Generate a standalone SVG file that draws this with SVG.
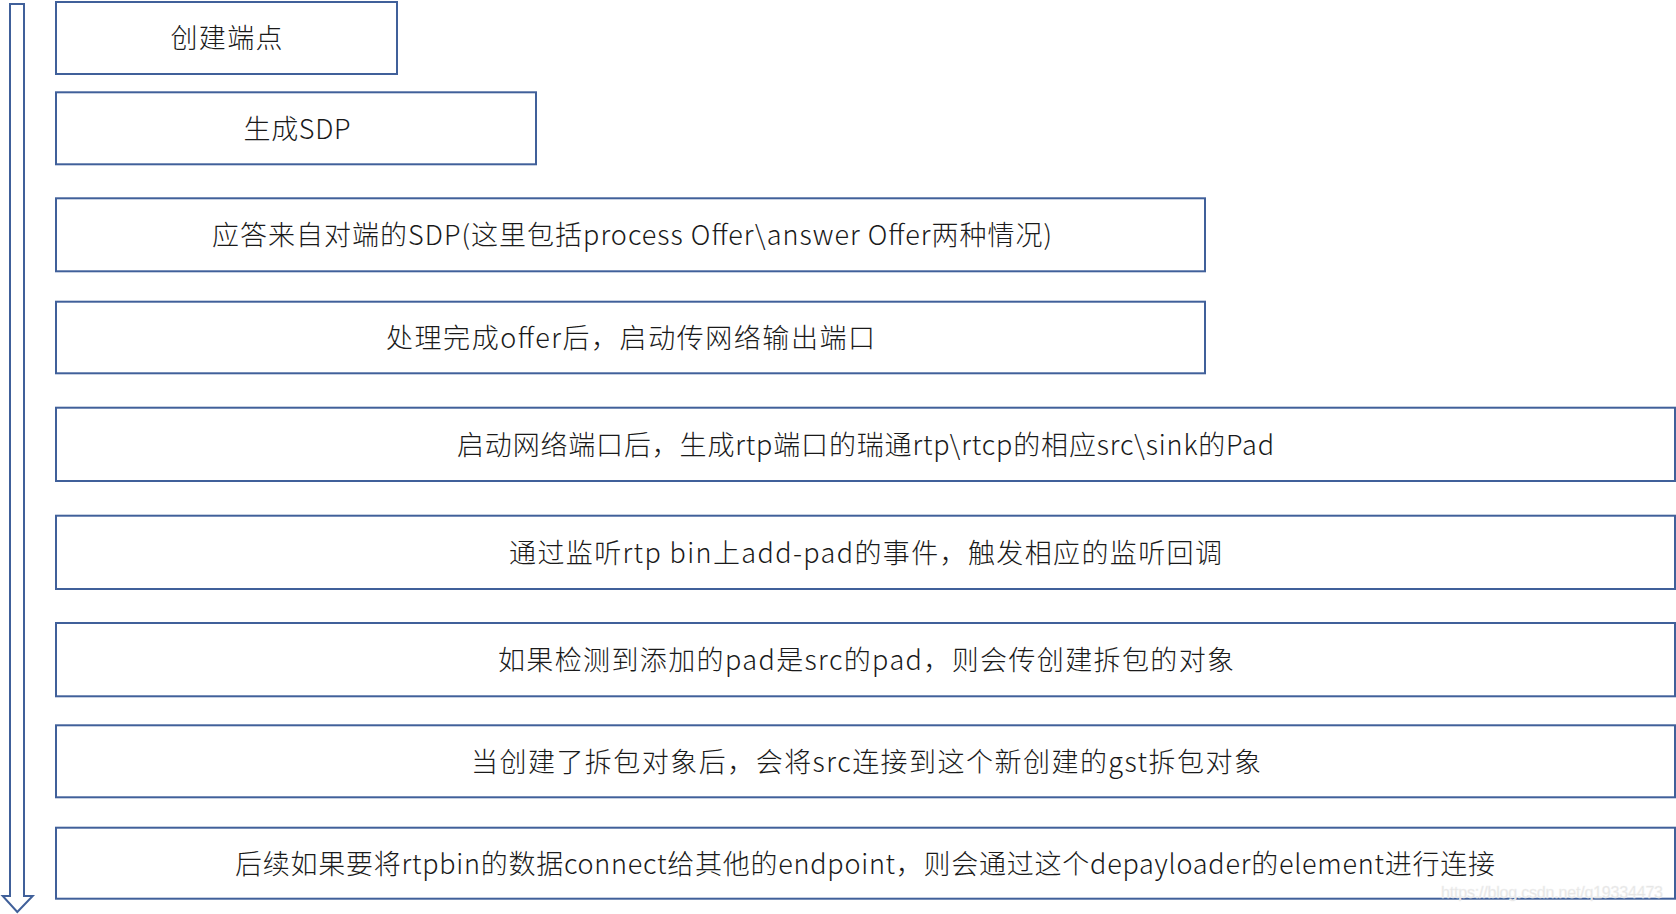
<svg xmlns="http://www.w3.org/2000/svg" width="1676" height="914" viewBox="0 0 1676 914">
<style>
.box{fill:#ffffff;stroke:#40609a;stroke-width:2}
.lbl{font-family:"Noto Sans CJK SC","Liberation Sans",sans-serif;font-size:27px;font-weight:300;fill:#1a1a1a;text-anchor:middle;dominant-baseline:central}
.wm{font-family:"Liberation Sans",Arial,sans-serif;font-size:16px;fill:#e2e2e2;stroke:#f2f2f2;stroke-width:0.5}
</style>
<rect width="1676" height="914" fill="#ffffff"/>
<g id="connectors">
<path class="box" d="M10,4 H24 V896 H32.7 L17.3,912 L2.7,896 H10 Z"/>
</g>
<g id="n1"><rect class="box" x="56" y="2" width="341" height="72"/><text class="lbl" x="226.5" y="36.5" textLength="112">创建端点</text></g>
<g id="n2"><rect class="box" x="56" y="92.3" width="480" height="72"/><text class="lbl" x="297" y="127" textLength="107">生成SDP</text></g>
<g id="n3"><rect class="box" x="56" y="198.3" width="1149" height="73"/><text class="lbl" x="632" y="233.5" textLength="840">应答来自对端的SDP(这里包括process Offer\answer Offer两种情况)</text></g>
<g id="n4"><rect class="box" x="56" y="301.7" width="1149" height="71.6"/><text class="lbl" x="630.5" y="336" textLength="489">处理完成offer后，启动传网络输出端口</text></g>
<g id="n5"><rect class="box" x="56" y="407.7" width="1619" height="73.3"/><text class="lbl" x="865.5" y="443" textLength="817">启动网络端口后，生成rtp端口的瑞通rtp\rtcp的相应src\sink的Pad</text></g>
<g id="n6"><rect class="box" x="56" y="515.7" width="1619" height="73.3"/><text class="lbl" x="865.5" y="551" textLength="713">通过监听rtp bin上add-pad的事件，触发相应的监听回调</text></g>
<g id="n7"><rect class="box" x="56" y="623" width="1619" height="73.3"/><text class="lbl" x="866" y="658.3" textLength="736">如果检测到添加的pad是src的pad，则会传创建拆包的对象</text></g>
<g id="n8"><rect class="box" x="56" y="725.3" width="1619" height="72"/><text class="lbl" x="866" y="760" textLength="790">当创建了拆包对象后，会将src连接到这个新创建的gst拆包对象</text></g>
<g id="n9"><rect class="box" x="56" y="827.7" width="1619" height="71"/><text class="lbl" x="865" y="862" textLength="1260">后续如果要将rtpbin的数据connect给其他的endpoint，则会通过这个depayloader的element进行连接</text></g>
<text class="wm" x="1441" y="898" textLength="222">https://blog.csdn.net/q19334473</text>
</svg>
